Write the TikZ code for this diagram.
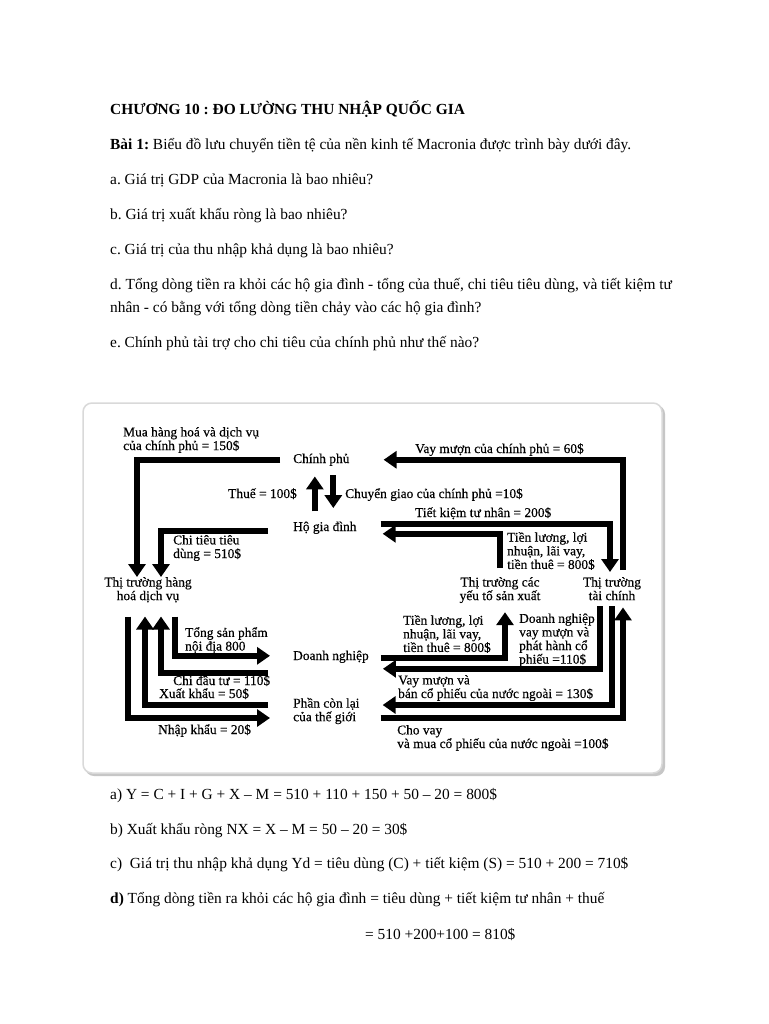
\documentclass[tikz,border=0pt]{standalone}
\usepackage{fontspec}
\setmainfont{Liberation Serif}
\newfontfamily\diagfont{Liberation Serif}[FakeBold=0.35]
\usetikzlibrary{arrows.meta}
\frenchspacing

\begin{document}
\begin{tikzpicture}[x=1pt, y=-1pt,
      txt/.style={anchor=base west, inner sep=0pt, font=\fontsize{15.4}{18}\selectfont},
      sec/.style={inner sep=0pt, align=center, font=\diagfont\fontsize{13.4}{13.6}\selectfont},
      lbl/.style={inner sep=0pt, align=left, font=\diagfont\fontsize{13.4}{13.6}\selectfont},
      flow/.style={line width=6pt, -{Triangle[width=17pt,length=13pt]}}]
    \fill[white] (0,0) rectangle (768,1024);
    \useasboundingbox (0,0) rectangle (768,1024);

    \node[txt, font=\bfseries\fontsize{15.4}{18}\selectfont] (t) at (110,115) {CHƯƠNG 10 : ĐO LƯỜNG THU NHẬP QUỐC GIA};
    \node[txt] (q0) at (110,150) {\textbf{Bài 1:} Biểu đồ lưu chuyển tiền tệ của nền kinh tế Macronia được trình bày dưới đây.};
    \node[txt] (qa) at (110,185) {a. Giá trị GDP của Macronia là bao nhiêu?};
    \node[txt] (qb) at (110,219) {b. Giá trị xuất khẩu ròng là bao nhiêu?};
    \node[txt] (qc) at (110,254) {c. Giá trị của thu nhập khả dụng là bao nhiêu?};
    \node[txt] (qd) at (110,289) {d. Tổng dòng tiền ra khỏi các hộ gia đình - tổng của thuế, chi tiêu tiêu dùng, và tiết kiệm tư};
    \node[txt] (qd2) at (110,312) {nhân - có bằng với tổng dòng tiền chảy vào các hộ gia đình?};
    \node[txt] (qe) at (110,347) {e. Chính phủ tài trợ cho chi tiêu của chính phủ như thế nào?};

    \fill[gray!45, rounded corners=9pt] (85,405) rectangle (665,776);
    \draw[gray!30, fill=white, line width=1.5pt, rounded corners=9pt] (83,403) rectangle (662,773);

    \node[sec, anchor=base west] (gov) at (293,463) {Chính phủ};
    \node[sec, anchor=base west] (hh) at (293,531) {Hộ gia đình};
    \node[sec, anchor=base west] (firm) at (293,660) {Doanh nghiệp};
    \node[lbl, anchor=west] (row) at (293,711) {Phần còn lại\\của thế giới};
    \node[sec, anchor=north] (gmk) at (148,577) {Thị trường hàng\\hoá dịch vụ};
    \node[sec, anchor=north] (fmk) at (500,577) {Thị trường các\\yếu tố sản xuất};
    \node[sec, anchor=north] (fin) at (612,577) {Thị trường\\tài chính};

    \node[lbl, anchor=west] (lg) at (123,440) {Mua hàng hoá và dịch vụ\\của chính phủ = 150\$};
    \node[lbl, anchor=base east] (lt) at (297,498) {Thuế = 100\$};
    \node[lbl, anchor=base west] (ltr) at (345,498) {Chuyển giao của chính phủ =10\$};
    \node[lbl, anchor=west] (lc) at (173,548) {Chi tiêu tiêu\\dùng = 510\$};
    \node[lbl, anchor=base west] (lb) at (415,453) {Vay mượn của chính phủ = 60\$};
    \node[lbl, anchor=base west] (ls) at (415,517) {Tiết kiệm tư nhân = 200\$};
    \node[lbl, anchor=west] (lw) at (507,551) {Tiền lương, lợi\\nhuận, lãi vay,\\tiền thuê = 800\$};
    \node[lbl, anchor=west] (ly) at (185,640) {Tổng sản phẩm\\nội địa 800};
    \node[lbl, anchor=base west] (li) at (173,685) {Chi đầu tư = 110\$};
    \node[lbl, anchor=base west] (lx) at (159,698) {Xuất khẩu = 50\$};
    \node[lbl, anchor=base west] (lm) at (158,734) {Nhập khẩu = 20\$};
    \node[lbl, anchor=west] (lf) at (403,634) {Tiền lương, lợi\\nhuận, lãi vay,\\tiền thuê = 800\$};
    \node[lbl, anchor=west] (ld) at (519,640) {Doanh nghiệp\\vay mượn và\\phát hành cổ\\phiếu =110\$};
    \node[lbl, anchor=west] (lv) at (398,688) {Vay mượn và\\bán cổ phiếu của nước ngoài = 130\$};
    \node[lbl, anchor=west] (lo) at (397,738) {Cho vay\\và mua cổ phiếu của nước ngoài =100\$};

    \draw[flow] ([xshift=-13pt]gov.west) -| ([xshift=-11pt]gmk.north);
    \draw[flow] ([xshift=-25pt,yshift=-3pt]hh.west) -| ([xshift=13pt]gmk.north);
    \draw[flow] ([xshift=-10pt]hh.north) ++(0,-10) -- ++(0,-35);
    \draw[flow] ([xshift=12pt]gov.south) ++(0,9) -- ++(0,33);
    \draw[flow] ([xshift=11pt]fin.north) ++(0,-7) |- ([xshift=34pt]gov.east);
    \draw[flow] ([xshift=24pt,yshift=4pt]hh.east) -| ([xshift=-2pt,yshift=5pt]fin.north);
    \draw[flow] (fmk.north) ++(0,-9) |- ([xshift=26pt,yshift=-6pt]hh.east);
    \draw[flow] ([xshift=27pt]gmk.south) ++(0,14) |- ([xshift=-23pt,yshift=1pt]firm.west);
    \draw[flow] ([xshift=-25pt,yshift=-16pt]firm.west) -| ([xshift=13pt,yshift=-14pt]gmk.south);
    \draw[flow] ([xshift=-25pt,yshift=6pt]row.west) -| ([xshift=-3pt,yshift=-14pt]gmk.south);
    \draw[flow] ([xshift=-20pt]gmk.south) ++(0,14) |- ([xshift=-23pt,yshift=-7pt]row.west);
    \draw[flow] ([xshift=12pt,yshift=-1pt]firm.east) -| ([xshift=5pt,yshift=-9pt]fmk.south);
    \draw[flow] ([xshift=-12pt]fin.south) ++(0,6) |- ([xshift=14pt,yshift=-12pt]firm.east);
    \draw[flow] (fin.south) ++(0,6) |- ([xshift=23pt,yshift=6pt]row.east);
    \draw[flow] ([xshift=21pt,yshift=-7pt]row.east) -| ([xshift=11pt,yshift=-7pt]fin.south);

    \node[txt] (aa) at (110,799) {a) Y = C + I + G + X – M = 510 + 110 + 150 + 50 – 20 = 800\$};
    \node[txt] (ab) at (110,834) {b) Xuất khẩu ròng NX = X – M = 50 – 20 = 30\$};
    \node[txt] (ac) at (110,868) {c)~ Giá trị thu nhập khả dụng Yd = tiêu dùng (C) + tiết kiệm (S) = 510 + 200 = 710\$};
    \node[txt] (ad) at (110,903) {\textbf{d)} Tổng dòng tiền ra khỏi các hộ gia đình = tiêu dùng + tiết kiệm tư nhân + thuế};
    \node[txt] (ad2) at (365,939) {= 510 +200+100 = 810\$};
  \end{tikzpicture}
\end{document}
